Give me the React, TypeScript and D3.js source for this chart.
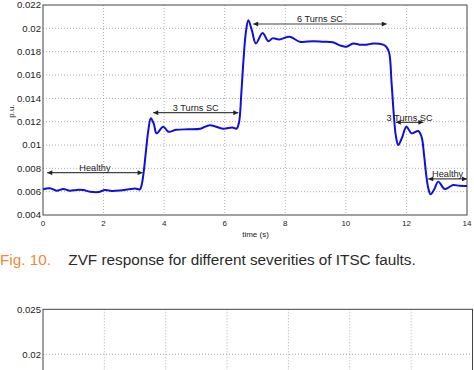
import React from 'react';
import * as d3 from 'd3';

// time (s) and ZVF (p.u.)
const time = [0, 0.23, 0.45, 0.67, 0.89, 1.11, 1.33, 1.55, 1.83, 2.05, 2.27, 2.54, 2.82, 3.04, 3.2, 3.26, 3.33, 3.4, 3.48, 3.56,
  3.66, 3.75, 3.97, 4.14, 4.4, 4.8, 5.2, 5.51, 5.95, 6.25, 6.39, 6.47, 6.55, 6.62, 6.7, 6.78, 6.9, 7.03, 7.25, 7.44,
  7.58, 7.8, 8.15, 8.48, 8.92, 9.25, 9.57, 9.85, 10.02, 10.24, 10.46, 10.68, 10.9, 11.23, 11.34, 11.43, 11.51, 11.58, 11.65, 11.73,
  11.85, 12.0, 12.17, 12.39, 12.5, 12.58, 12.66, 12.73, 12.8, 12.92, 13.05, 13.27, 13.54, 13.75, 14.0];
const zvf = [0.0062, 0.0063, 0.00608, 0.00623, 0.00608, 0.00615, 0.00614, 0.006, 0.00597, 0.00614, 0.00606, 0.0061, 0.0062, 0.00628, 0.0062, 0.0066, 0.0078, 0.0095, 0.0113, 0.0123,
  0.0118, 0.011, 0.01157, 0.01114, 0.0113, 0.01135, 0.0114, 0.0117, 0.0114, 0.0115, 0.0114, 0.0119, 0.0145, 0.0173, 0.0197, 0.0207, 0.0198, 0.0187, 0.0196, 0.0189,
  0.01914, 0.01905, 0.01928, 0.01885, 0.0189, 0.01885, 0.0188, 0.0185, 0.01843, 0.0187, 0.0186, 0.0186, 0.0187, 0.0186, 0.0184, 0.0179, 0.0153, 0.0127, 0.0108, 0.01,
  0.0106, 0.01157, 0.011, 0.0112, 0.0107, 0.0092, 0.0073, 0.0062, 0.00577, 0.0062, 0.00686, 0.00623, 0.00657, 0.0065, 0.00649];

const xTicks = [0, 2, 4, 6, 8, 10, 12, 14];
const yTicks = [0.004, 0.006, 0.008, 0.01, 0.012, 0.014, 0.016, 0.018, 0.02, 0.022];
const yTickLabels = ['0.004', '0.006', '0.008', '0.01', '0.012', '0.014', '0.016', '0.018', '0.02', '0.022'];

// second (cut-off) figure below the caption: only its top is visible
const yTicks2 = [0.02, 0.025];
const yTickLabels2 = ['0.02', '0.025'];
const yDomain2 = [0, 0.025];

// annotation arrows: label, start, end (s), level (p.u.)
const annLabels = ['Healthy', '3 Turns SC', '6 Turns SC', '3 Turns SC', 'Healthy'];
const annFrom = [0.14, 3.64, 6.94, 11.65, 12.72];
const annTo = [3.29, 6.45, 11.35, 12.56, 14.0];
const annLevel = [0.00763, 0.01277, 0.02037, 0.01194, 0.00709];

const FONT = '"Liberation Sans", Arial, Helvetica, sans-serif';
const GRID = '#9a9a9a';
const FRAME = '#444';

export default function App() {
  const m = { left: 43, right: 467, top: 5, bottom: 215 };
  const x = d3.scaleLinear().domain([0, 14]).range([m.left, m.right]);
  const y = d3.scaleLinear().domain([0.004, 0.022]).range([m.bottom, m.top]);

  const line = d3.line<number>()
    .x((_, i) => x(time[i]))
    .y(d => y(d))
    .curve(d3.curveCatmullRom.alpha(0.5));

  const x2 = d3.scaleLinear().domain([0, 14]).range([43, 472.5]);
  const y2 = d3.scaleLinear().domain(yDomain2).range([534.3, 309.3]);

  return (
    <div style={{ position: 'absolute', left: 0, top: 0 }}>
      <svg width={474} height={370} style={{ display: 'block', background: '#fff' }} fontFamily={FONT}>
        <defs>
          <marker id="ah" viewBox="0 0 10 10" refX="10" refY="5" markerWidth="6" markerHeight="5"
            markerUnits="userSpaceOnUse" orient="auto-start-reverse">
            <path d="M0,0 L10,5 L0,10 z" fill="#222" />
          </marker>
        </defs>

        {/* top chart grid */}
        <g stroke={GRID} strokeWidth={0.8} strokeDasharray="1,2">
          {xTicks.slice(1, -1).map(t => (
            <line key={'gx' + t} x1={x(t)} x2={x(t)} y1={m.top} y2={m.bottom} />
          ))}
          {yTicks.slice(1, -1).map(t => (
            <line key={'gy' + t} x1={m.left} x2={m.right} y1={y(t)} y2={y(t)} />
          ))}
        </g>
        <rect x={m.left} y={m.top} width={m.right - m.left} height={m.bottom - m.top}
          fill="none" stroke={FRAME} strokeWidth={1} />

        {/* tick labels */}
        <g fontSize={9.6} fill="#222" textAnchor="end">
          {yTicks.map((t, i) => (
            <text key={'yl' + t} x={m.left - 2} y={y(t)} dy="0.35em">{yTickLabels[i]}</text>
          ))}
        </g>
        <g fontSize={8} fill="#222" textAnchor="middle">
          {xTicks.map(t => (
            <text key={'xl' + t} x={x(t)} y={226}>{t}</text>
          ))}
        </g>
        <text x={255.5} y={236.5} fontSize={8} textAnchor="middle" fill="#222">time (s)</text>
        <text transform="translate(14,111) rotate(-90)" fontSize={8} textAnchor="middle" fill="#222">p.u.</text>

        {/* ZVF curve */}
        <path d={line(zvf) || ''} fill="none" stroke="#1010d8" strokeWidth={2} strokeLinejoin="round" />

        {/* annotations */}
        {annLabels.map((lab, i) => (
          <g key={'a' + i}>
            <line x1={x(annFrom[i])} x2={x(annTo[i])} y1={y(annLevel[i])} y2={y(annLevel[i])}
              stroke="#444" strokeWidth={1.2} markerStart="url(#ah)" markerEnd="url(#ah)" />
            <text x={(x(annFrom[i]) + x(annTo[i])) / 2} y={y(annLevel[i]) - 1.8}
              fontSize={9.2} textAnchor="middle" fill="#222">{lab}</text>
          </g>
        ))}

        {/* caption */}
        <text x={0} y={265} fontSize={15.3} fill="#ee8a3a">Fig. 10.</text>
        <text x={68.3} y={265} fontSize={15.3} fill="#2a2a2a">ZVF response for different severities of ITSC faults.</text>

        {/* second chart, cut by the page bottom */}
        <g stroke={GRID} strokeWidth={0.8} strokeDasharray="1,2">
          {xTicks.slice(1, -1).map(t => (
            <line key={'g2x' + t} x1={x2(t)} x2={x2(t)} y1={y2(0.025)} y2={y2(0)} />
          ))}
          <line x1={43} x2={472.5} y1={y2(yTicks2[0])} y2={y2(yTicks2[0])} />
        </g>
        <rect x={43} y={y2(0.025)} width={472.5 - 43} height={y2(0) - y2(0.025)}
          fill="none" stroke={FRAME} strokeWidth={1} />
        <g fontSize={9.6} fill="#222" textAnchor="end">
          {yTicks2.map((t, i) => (
            <text key={'y2l' + t} x={41} y={y2(t)} dy="0.35em">{yTickLabels2[i]}</text>
          ))}
        </g>
      </svg>
    </div>
  );
}
